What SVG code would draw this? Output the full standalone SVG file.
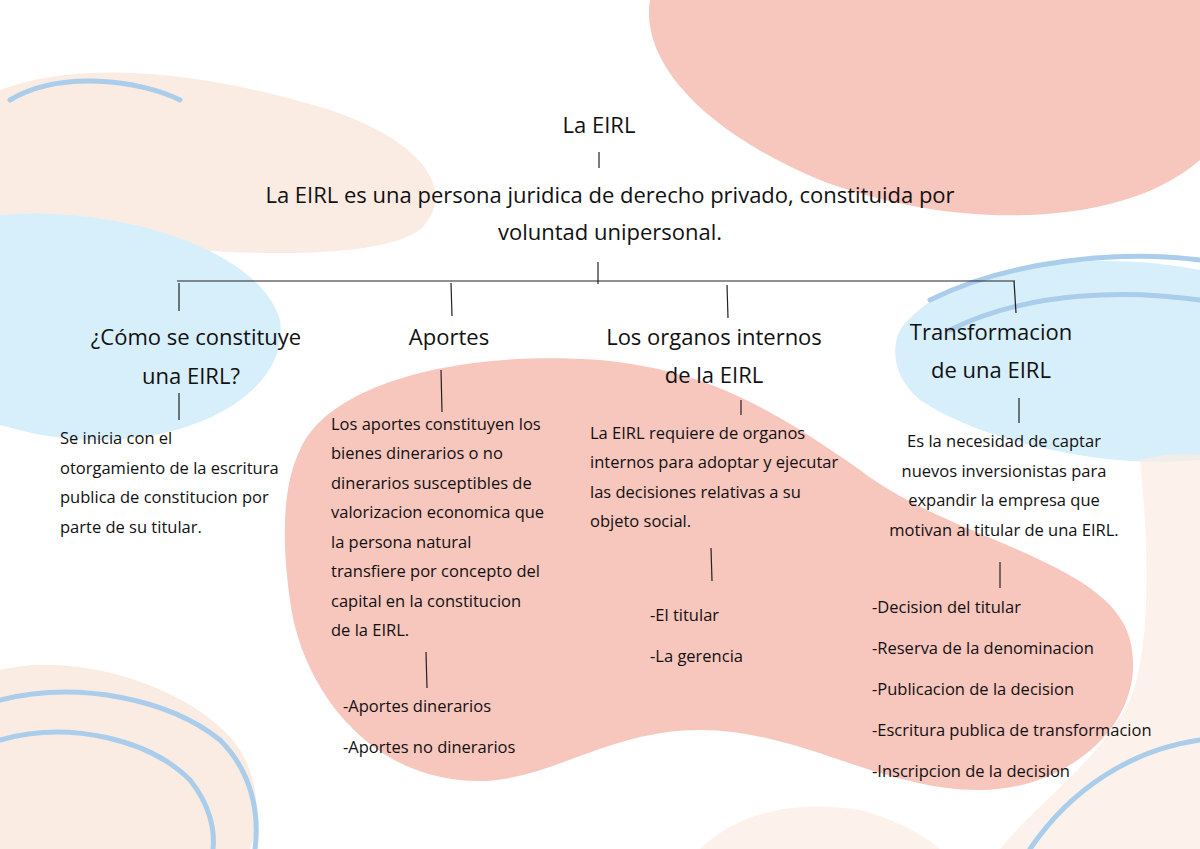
<svg xmlns="http://www.w3.org/2000/svg" width="1200" height="849" viewBox="0 0 1200 849">
<style>
.h{font-family:"Open Sans","Noto Sans",sans-serif;font-size:22px;fill:#111}
.b{font-family:"Open Sans","Noto Sans",sans-serif;font-size:16.5px;fill:#111;font-weight:500}
.c line{stroke:#222;stroke-width:1.2}
.w{fill:none;stroke:#a9cdea;stroke-width:5;stroke-linecap:round}
</style>
<rect width="1200" height="849" fill="#fff"/>
<g id="background">
<path d="M0 90 C80 60 200 70 330 110 C420 140 460 190 420 230 C360 270 150 250 0 230 Z" fill="#fbece3"/>
<path d="M650 0 L1200 0 L1200 160 C1120 230 950 230 820 180 C700 130 640 60 650 0 Z" fill="#f7c6bd"/>
<path d="M0 215 C120 205 260 250 280 320 C290 390 200 440 100 440 C50 440 20 430 0 425 Z" fill="#d7effa"/>
<path d="M900 330 C950 260 1100 250 1200 270 L1200 460 C1100 470 980 440 920 400 C895 380 890 350 900 330 Z" fill="#d7effa"/>
<path d="M300 450 C330 380 470 350 600 360 C700 370 760 400 860 470 C950 540 1110 560 1130 640 C1150 720 1070 790 980 790 C880 790 800 730 700 730 C600 730 540 790 460 780 C360 770 300 680 290 600 C280 530 285 480 300 450 Z" fill="#f7c6bd"/>
<path d="M0 670 C80 650 200 690 240 750 C270 800 250 849 250 849 L0 849 Z" fill="#fbece3"/>
<path d="M1140 460 C1180 450 1200 455 1200 455 L1200 849 L1000 849 C1040 800 1100 760 1130 700 C1150 650 1150 560 1140 460 Z" fill="#fbece3" opacity="0.7"/>
<path d="M700 849 C740 810 800 800 860 810 C900 820 930 840 940 849 Z" fill="#fbece3" opacity="0.7"/>
<path class="w" d="M10 100 C60 70 140 80 180 100"/>
<path class="w" d="M930 300 C1010 260 1120 250 1200 260"/>
<path class="w" d="M950 330 C1030 290 1130 290 1200 300"/>
<path class="w" d="M0 700 C80 680 170 700 220 740 C250 770 260 810 255 849"/>
<path class="w" d="M0 740 C70 720 150 740 190 780 C210 805 215 830 213 849"/>
<path class="w" d="M1030 849 C1070 790 1130 750 1200 740"/>
</g>
<g class="c" id="connectors">
<line x1="599" y1="152" x2="599" y2="168"/>
<line x1="598" y1="262" x2="598" y2="284"/>
<line x1="177" y1="281" x2="1015" y2="281"/>
<line x1="179" y1="283" x2="179" y2="311"/>
<line x1="451" y1="283" x2="452" y2="316"/>
<line x1="727" y1="285" x2="728" y2="318"/>
<line x1="1014" y1="281" x2="1016" y2="313"/>
<line x1="179" y1="393" x2="179" y2="420"/>
<line x1="441" y1="370" x2="442" y2="412"/>
<line x1="741" y1="400" x2="741" y2="415"/>
<line x1="1019" y1="398" x2="1019" y2="423"/>
<line x1="426" y1="652" x2="427" y2="688"/>
<line x1="711" y1="548" x2="712" y2="581"/>
<line x1="1000" y1="562" x2="1000" y2="588"/>
</g>
<g id="title"><text class="h" x="599" y="133" text-anchor="middle">La EIRL</text></g>
<g id="definition"><text class="h" x="610" y="203" text-anchor="middle">La EIRL es una persona juridica de derecho privado, constituida por</text>
<text class="h" x="610" y="240" text-anchor="middle">voluntad unipersonal.</text></g>
<g id="n1"><text class="h" x="196" y="345" text-anchor="middle">¿Cómo se constituye</text><text class="h" x="191" y="384" text-anchor="middle">una EIRL?</text>
<text class="b"><tspan x="60" y="444">Se inicia con el</tspan><tspan x="60" y="474">otorgamiento de la escritura</tspan><tspan x="60" y="503">publica de constitucion por</tspan><tspan x="60" y="533">parte de su titular.</tspan></text></g>
<g id="n2"><text class="h" x="449" y="345" text-anchor="middle">Aportes</text>
<text class="b"><tspan x="331" y="430">Los aportes constituyen los</tspan><tspan x="331" y="459">bienes dinerarios o no</tspan><tspan x="331" y="489">dinerarios susceptibles de</tspan><tspan x="331" y="518">valorizacion economica que</tspan><tspan x="331" y="548">la persona natural</tspan><tspan x="331" y="577">transfiere por concepto del</tspan><tspan x="331" y="607">capital en la constitucion</tspan><tspan x="331" y="636">de la EIRL.</tspan></text>
<text class="b"><tspan x="343" y="712">-Aportes dinerarios</tspan><tspan x="343" y="753">-Aportes no dinerarios</tspan></text></g>
<g id="n3"><text class="h" x="714" y="345" text-anchor="middle">Los organos internos</text><text class="h" x="714" y="383" text-anchor="middle">de la EIRL</text>
<text class="b"><tspan x="590" y="439">La EIRL requiere de organos</tspan><tspan x="590" y="468">internos para adoptar y ejecutar</tspan><tspan x="590" y="498">las decisiones relativas a su</tspan><tspan x="590" y="527">objeto social.</tspan></text>
<text class="b"><tspan x="650" y="621">-El titular</tspan><tspan x="650" y="662">-La gerencia</tspan></text></g>
<g id="n4"><text class="h" x="991" y="340" text-anchor="middle">Transformacion</text><text class="h" x="991" y="378" text-anchor="middle">de una EIRL</text>
<text class="b" text-anchor="middle"><tspan x="1004" y="447">Es la necesidad de captar</tspan><tspan x="1004" y="477">nuevos inversionistas para</tspan><tspan x="1004" y="506">expandir la empresa que</tspan><tspan x="1004" y="536">motivan al titular de una EIRL.</tspan></text>
<text class="b"><tspan x="872" y="613">-Decision del titular</tspan><tspan x="872" y="654">-Reserva de la denominacion</tspan><tspan x="872" y="695">-Publicacion de la decision</tspan><tspan x="872" y="736">-Escritura publica de transformacion</tspan><tspan x="872" y="777">-Inscripcion de la decision</tspan></text></g>
</svg>
